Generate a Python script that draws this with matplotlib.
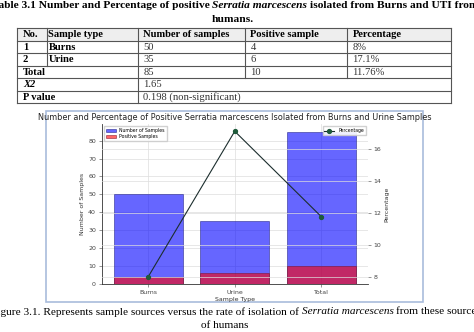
import matplotlib
matplotlib.use("Agg")
import matplotlib.pyplot as plt
from matplotlib.patches import Rectangle

# chart data
sample_types = ["Burns", "Urine", "Total"]
num_samples = [50, 35, 85]
positive_samples = [4, 6, 10]
percentage = [8, 17.1, 11.76]

# table data
table_header = ["No.", "Sample type", "Number of samples", "Positive sample", "Percentage"]
row_no = ["1", "2"]
row_pct_text = ["8%", "17.1%", "11.76%"]
chi2_text = "1.65"
pvalue_text = "0.198 (non-significant)"

W, H = 474, 332
SERIF = "Liberation Serif"

fig = plt.figure(figsize=(W / 100, H / 100), dpi=100)
fig.patch.set_facecolor("white")

# page layer in pixel coordinates
pg = fig.add_axes([0, 0, 1, 1])
pg.set_xlim(0, W)
pg.set_ylim(H, 0)
pg.axis("off")

renderer = fig.canvas.get_renderer()


def text_width(s, **kw):
    t = pg.text(0, 0, s, **kw)
    w = t.get_window_extent(renderer).width
    t.remove()
    return w


def rich_line(parts, xc, y, size, weight="normal"):
    kw = dict(fontsize=size, family=SERIF, weight=weight)
    space = text_width("x x", **kw) - text_width("xx", **kw)
    widths = [text_width(s, style=st, **kw) for s, st in parts]
    total = sum(widths) + space * (len(parts) - 1)
    x = xc - total / 2
    for (s, st), w in zip(parts, widths):
        pg.text(x, y, s, style=st, va="center", ha="left", color="black", **kw)
        x += w + space


# caption above the table
rich_line([("Table 3.1 Number and Percentage of positive", "normal"),
           ("Serratia marcescens", "italic"),
           ("isolated from Burns and UTI from", "normal")], 235, 6, 8.2, "bold")
pg.text(233, 19, "humans.", fontsize=8.2, family=SERIF, weight="bold", ha="center", va="center")

# table
cols = [17.5, 47, 138, 245, 347, 451]
rows = [28.3, 40.8, 53.3, 65.9, 78.4, 90.9, 103.4]
lc = "#555555"
pg.add_patch(Rectangle((cols[0], rows[0]), cols[-1] - cols[0], rows[1] - rows[0],
                       facecolor="#eeeeee", edgecolor="none"))
for y in rows:
    pg.plot([cols[0], cols[-1]], [y, y], color=lc, lw=0.8)
pg.plot([cols[0], cols[0]], [rows[0], rows[-1]], color=lc, lw=0.8)
pg.plot([cols[-1], cols[-1]], [rows[0], rows[-1]], color=lc, lw=0.8)
pg.plot([cols[1], cols[1]], [rows[0], rows[3]], color=lc, lw=0.8)
pg.plot([cols[2], cols[2]], [rows[0], rows[-1]], color=lc, lw=0.8)
pg.plot([cols[3], cols[3]], [rows[0], rows[4]], color=lc, lw=0.8)
pg.plot([cols[4], cols[4]], [rows[0], rows[4]], color=lc, lw=0.8)


def cell(col_x, row_i, s, pad=5.5, bold=False, italic=False, color="#333333"):
    yc = (rows[row_i] + rows[row_i + 1]) / 2
    pg.text(col_x + pad, yc, s, fontsize=7.6, family=SERIF,
            weight="bold" if bold else "normal", style="italic" if italic else "normal",
            color="black" if bold else color, ha="left", va="center")


for i, h in enumerate(table_header):
    cell(cols[i], 0, h, pad=1.5 if i == 1 else 5.5, bold=True)
for i in range(2):
    cell(cols[0], i + 1, row_no[i], bold=True)
    cell(cols[1], i + 1, sample_types[i], pad=1.5, bold=True)
cell(cols[0], 3, sample_types[2], bold=True)
for i in range(3):
    cell(cols[2], i + 1, str(num_samples[i]))
    cell(cols[3], i + 1, str(positive_samples[i]))
    cell(cols[4], i + 1, row_pct_text[i])
cell(cols[0], 4, "X2", bold=True, italic=True)
cell(cols[2], 4, chi2_text)
cell(cols[0], 5, "P value", bold=True)
cell(cols[2], 5, pvalue_text)

# embedded chart frame
pg.add_patch(Rectangle((45.7, 110.7), 377, 191, facecolor="white",
                       edgecolor="#a9bcdc", lw=1.2))

# caption below the chart
rich_line([("Figure 3.1. Represents sample sources versus the rate of isolation of", "normal"),
           ("Serratia marcescens", "italic"),
           ("from these sources", "normal")], 236, 312, 8.1)
pg.text(225, 326, "of humans", fontsize=8.1, family=SERIF, ha="center", va="center")

# chart
ax = fig.add_axes([101.5 / W, 1 - 284 / H, 266.5 / W, 160 / H])
ax.set_axisbelow(True)
ax.grid(True, color="#dddddd", lw=0.5)
ax.bar(sample_types, num_samples, width=0.8, color="blue", alpha=0.6,
       edgecolor="#1a1a80", lw=0.6, label="Number of Samples")
ax.bar(sample_types, positive_samples, width=0.8, color="red", alpha=0.6,
       edgecolor="#80102a", lw=0.6, label="Positive Samples")
ax.set_ylabel("Number of Samples", fontsize=4.5, color="#333333", labelpad=2)
ax.set_xlabel("Sample Type", fontsize=4.5, color="#333333", labelpad=2)
ax.tick_params(labelsize=4.5, colors="#444444", length=2, width=0.4, pad=2)
ax.set_yticks(range(0, 90, 10))
for side in ["top", "right"]:
    ax.spines[side].set_visible(False)
for side in ["left", "bottom"]:
    ax.spines[side].set_color("#333333")
    ax.spines[side].set_linewidth(0.6)
ax.set_title("Number and Percentage of Positive Serratia marcescens Isolated from Burns and Urine Samples",
             fontsize=5.9, color="#222222", pad=3)
ax.legend(loc="upper left", fontsize=3.3, frameon=True, borderpad=0.4,
          handlelength=2.2, labelspacing=0.3, framealpha=0.9, edgecolor="#cccccc", fancybox=False)

ax2 = ax.twinx()
ax2.plot(sample_types, percentage, color="#1c2e2e", marker="o", markersize=2.8,
         markerfacecolor="#1e5a3a", markeredgecolor="#1e5a3a", lw=0.8, label="Percentage")
ax2.set_ylabel("Percentage", fontsize=4.5, color="#333333", labelpad=2)
ax2.tick_params(labelsize=4.5, colors="#444444", length=2, width=0.4, pad=2)
ax2.grid(True, axis="y", color="#dddddd", lw=0.5)
for side in ["top", "right", "left", "bottom"]:
    ax2.spines[side].set_visible(False)
ax2.legend(loc="upper right", fontsize=3.3, frameon=True, borderpad=0.4,
           handlelength=2.2, framealpha=0.9, edgecolor="#cccccc", fancybox=False)

fig.savefig("out.png", dpi=100)
